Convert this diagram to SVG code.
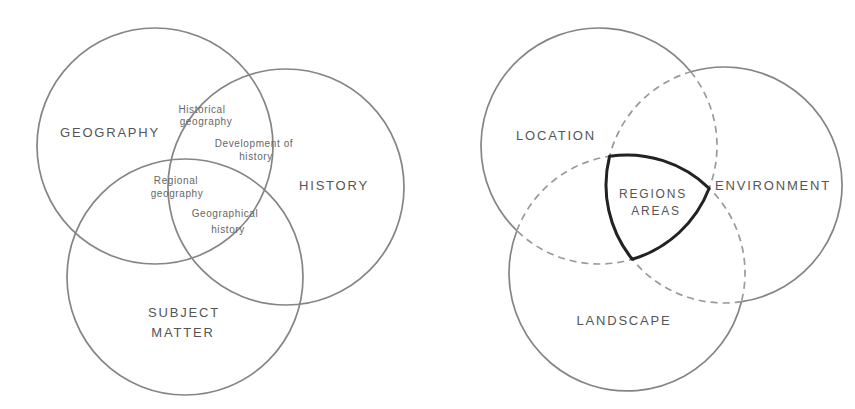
<svg xmlns="http://www.w3.org/2000/svg" width="855" height="409" viewBox="0 0 855 409">
<style>
.c{fill:none;stroke:#858585;stroke-width:1.7}
.d{fill:none;stroke:#9a9a9a;stroke-width:1.7;stroke-dasharray:7 5}
.k{fill:none;stroke:#222;stroke-width:3;stroke-linejoin:round}
.L{font-family:"Liberation Sans",Arial,sans-serif;font-size:13px;letter-spacing:1.8px;fill:#555;text-anchor:middle}
.s{font-family:"Liberation Sans",Arial,sans-serif;font-size:10px;letter-spacing:0.6px;fill:#666;text-anchor:middle}
</style>
<rect width="855" height="409" fill="#fff"/>
<g id="connectors">
  <circle id="geography-circle" class="c" cx="155" cy="146" r="118"/>
  <circle id="history-circle" class="c" cx="286" cy="187" r="118"/>
  <circle id="subject-circle" class="c" cx="185" cy="277" r="118"/>
  <path id="location-solid" class="c" d="M516.84,230.70 A118,118 0 1 1 690.74,71.79"/>
  <path id="location-dashed" class="d" d="M690.74,71.79 A118,118 0 0 1 516.84,230.70"/>
  <path id="environment-solid" class="c" d="M690.74,71.79 A118,118 0 1 1 741.46,301.70"/>
  <path id="environment-dashed" class="d" d="M741.46,301.70 A118,118 0 0 1 690.74,71.79"/>
  <path id="landscape-solid" class="c" d="M741.46,301.70 A118,118 0 1 1 516.84,230.70"/>
  <path id="landscape-dashed" class="d" d="M516.84,230.70 A118,118 0 0 1 741.46,301.70"/>
  <path id="regions-outline" class="k" d="M609.54,156.30 A118,118 0 0 1 709.16,188.30 A118,118 0 0 1 632.26,259.21 A118,118 0 0 1 609.54,156.30 Z"/>
</g>
<g id="geography"><text class="L" x="110" y="136.5">GEOGRAPHY</text></g>
<g id="history"><text class="L" x="334" y="189.5">HISTORY</text></g>
<g id="subject-matter"><text class="L" x="184" y="316.5">SUBJECT</text><text class="L" x="183" y="336.5">MATTER</text></g>
<g id="label-1"><text class="s" x="202" y="112.5">Historical</text><text class="s" x="206" y="124.5">geography</text></g>
<g id="label-2"><text class="s" x="254" y="146.5">Development of</text><text class="s" x="256" y="159.5">history</text></g>
<g id="label-3"><text class="s" x="176" y="183.5">Regional</text><text class="s" x="177" y="196.5">geography</text></g>
<g id="label-4"><text class="s" x="225" y="216.5">Geographical</text><text class="s" x="228" y="232.5">history</text></g>
<g id="location"><text class="L" x="556" y="139.5">LOCATION</text></g>
<g id="environment"><text class="L" x="773" y="189.5">ENVIRONMENT</text></g>
<g id="landscape"><text class="L" x="624" y="324.5">LANDSCAPE</text></g>
<g id="regions"><text class="L" x="653" y="197.5" style="font-size:12px">REGIONS</text><text class="L" x="656" y="214.5" style="font-size:12px">AREAS</text></g>
</svg>
